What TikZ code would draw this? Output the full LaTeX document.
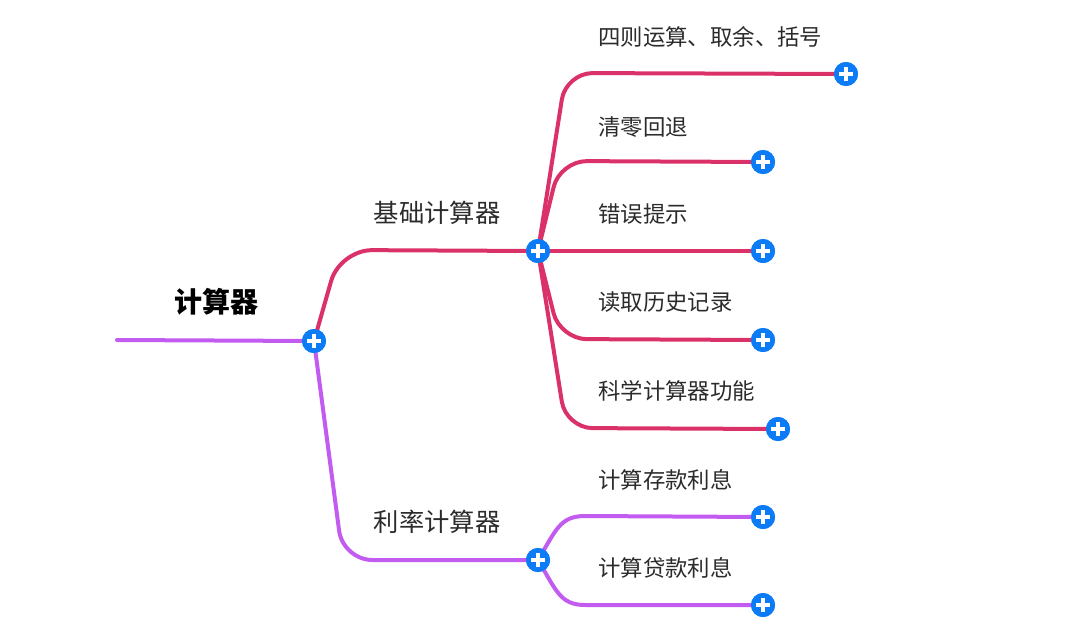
\documentclass[tikz,border=0pt]{standalone}
\usepackage{fontspec}
\newfontfamily\cjk{Noto Sans CJK SC}
\usetikzlibrary{calc}
\definecolor{redline}{HTML}{DB3169}
\definecolor{purpline}{HTML}{C25BF0}
\definecolor{plusblue}{HTML}{0C7BF6}
\definecolor{txt}{HTML}{2B2B2B}
\begin{document}
\begin{tikzpicture}[x=0.75pt,y=-0.75pt,
  plusbtn/.style={circle,fill=plusblue,inner sep=0pt,minimum size=18pt,
    path picture={\draw[white,line width=2.6pt]
      ([xshift=-4.9pt]path picture bounding box.center) -- ([xshift=4.9pt]path picture bounding box.center)
      ([yshift=-4.9pt]path picture bounding box.center) -- ([yshift=4.9pt]path picture bounding box.center);}},
  redl/.style={draw=redline,line width=3pt,line cap=round,rounded corners=20pt},
  purl/.style={draw=purpline,line width=3pt,line cap=round,rounded corners=22pt},
  leaf/.style={anchor=west,font=\cjk\fontsize{16.8pt}{20pt}\selectfont,text=txt,inner sep=0pt},
  branch/.style={font=\cjk\fontsize{19pt}{22pt}\selectfont,text=txt,inner sep=0pt},
  rootlbl/.style={font=\cjk\bfseries\fontsize{21pt}{24pt}\selectfont,text=black,inner sep=0pt}
]
\useasboundingbox (0,0) rectangle (1082,640);
\coordinate (start) at (117,340);
\node[plusbtn] (r) at (314,341) {};
\node[plusbtn] (b1) at (538,251) {};
\node[plusbtn] (b2) at (538,560) {};
\node[plusbtn] (c1) at (846,74) {};
\node[plusbtn] (c2) at (763,162) {};
\node[plusbtn] (c3) at (763,251) {};
\node[plusbtn] (c4) at (763,340) {};
\node[plusbtn] (c5) at (778,429) {};
\node[plusbtn] (c6) at (763,517) {};
\node[plusbtn] (c7) at (763,605) {};
% bend coordinates
\coordinate (k1) at (340,250);
\coordinate (k2) at (343,560);
\coordinate (m1) at (566,73);
\coordinate (m2) at (560,161);
\coordinate (m4) at (560,339);
\coordinate (m5) at (566,428);
% connectors
\draw[purl] (start) -- (r.center);
\draw[redl,rounded corners=24pt] (r.center) -- (k1) -- (b1.center);
\draw[purl] (r.center) -- (k2) -- (b2.center);
\draw[redl] (b1.center) -- (m1) -- (c1.center);
\draw[redl] (b1.center) -- (m2) -- (c2.center);
\draw[redl] (b1.center) -- (c3.center);
\draw[redl] (b1.center) -- (m4) -- (c4.center);
\draw[redl] (b1.center) -- (m5) -- (c5.center);
\draw[draw=purpline,line width=3pt] (b2.center) .. controls (556,530) and (560,516) .. (585,516) -- (c6.center);
\draw[draw=purpline,line width=3pt] (b2.center) .. controls (556,590) and (560,605) .. (585,605) -- (c7.center);
% buttons on top
\foreach \n in {r,b1,b2,c1,c2,c3,c4,c5,c6,c7}{
  \node[plusbtn] at (\n.center) {};
}
% labels
\node[rootlbl] (tr) at (216,302) {计算器};
\node[branch] (t1) at (437,213) {基础计算器};
\node[branch] (t2) at (437,522) {利率计算器};
\node[leaf] (l1) at (598,37) {四则运算、取余、括号};
\node[leaf] (l2) at (598,127) {清零回退};
\node[leaf] (l3) at (598,214) {错误提示};
\node[leaf] (l4) at (598,302) {读取历史记录};
\node[leaf] (l5) at (598,391) {科学计算器功能};
\node[leaf] (l6) at (598,480) {计算存款利息};
\node[leaf] (l7) at (598,568) {计算贷款利息};
\end{tikzpicture}
\end{document}
